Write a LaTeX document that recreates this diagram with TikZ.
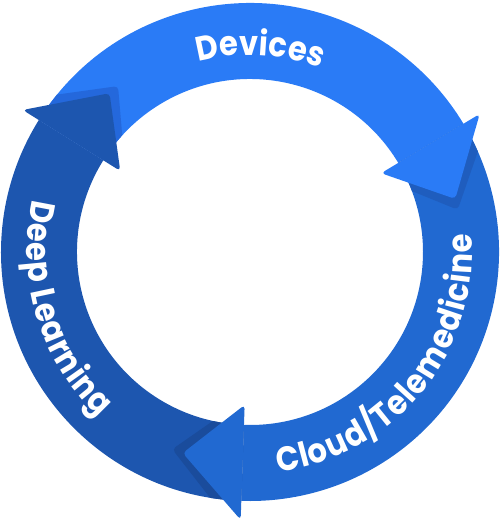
\documentclass[tikz,border=0pt]{standalone}
\usepackage{fontspec}
\setmainfont{Poppins}
\newfontfamily\labfont{Poppins}[FakeStretch=0.9, BoldFeatures={FakeStretch=0.9}]
\usetikzlibrary{decorations.text}
\definecolor{cdev}{HTML}{2A7BF6}
\definecolor{ccloud}{HTML}{2169D1}
\definecolor{cdl}{HTML}{1D56AF}
\definecolor{sdev}{HTML}{2468DC}
\definecolor{scloud}{HTML}{1F5DBE}
\definecolor{sdl}{HTML}{1A4C9C}
\newcommand{\rin}{173pt}
\newcommand{\rout}{249pt}
\newcommand{\myband}[3]{\fill[#3] (#1:\rout) arc[start angle=#1, end angle=#2, radius=\rout] -- (#2:\rin) arc[start angle=#2, end angle=#1, radius=\rin] -- cycle;}
\newcommand{\myhead}[2]{\fill[#2] (#1:268pt) -- (#1-16.5:212pt) -- (#1:153pt) -- cycle;}
\tikzset{
  headstyle/.style={rounded corners=4pt},
  labelfont/.style 2 args={decorate, decoration={text along path, text align=center, text color=white, raise=#2,
     text={|\labfont\fontsize{34}{34}\bfseries\selectfont|#1}}}
}
\begin{document}
\begin{tikzpicture}
\useasboundingbox (-250pt,-267pt) rectangle (250pt,252pt);
% bands
\myband{148}{31}{cdev}
\myband{31}{-92}{ccloud}
\myband{268}{148}{cdl}
% shadows
\begin{scope}
\clip (0:\rout) arc[start angle=0, end angle=360, radius=\rout] -- (0:\rin) arc[start angle=360, end angle=0, radius=\rin] -- cycle;
\myhead{148}{sdev, headstyle, rotate=-3}
\myhead{31}{scloud, headstyle, rotate=-3}
\myhead{-92}{sdl, headstyle, rotate=-3}
\end{scope}
% heads
\myhead{148}{cdl, headstyle}
\myhead{31}{cdev, headstyle}
\myhead{-92}{ccloud, headstyle}
% labels
\path[labelfont={Devices}{0pt}] (127:197pt) arc[start angle=127, end angle=47, radius=197pt];
\path[labelfont={Deep Learning}{-13pt}] (147:210pt) arc[start angle=147, end angle=247, radius=210pt];
\path[labelfont={Cloud/Telemedicine}{-13pt}] (-99:209pt) arc[start angle=-99, end angle=21, radius=209pt];
\end{tikzpicture}
\end{document}
